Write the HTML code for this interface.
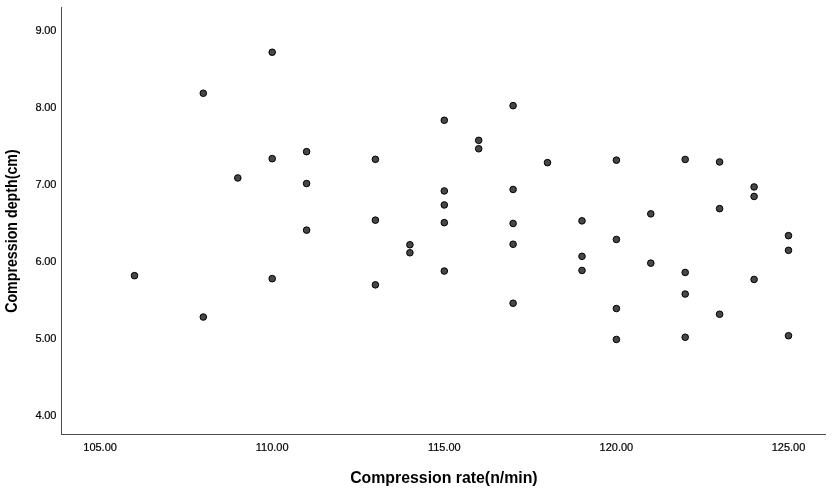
<!DOCTYPE html>
<html><head><meta charset="utf-8"><style>
html,body{margin:0;padding:0;background:#fff;}
body{width:837px;height:489px;overflow:hidden;}
svg{display:block;will-change:transform;}
.g{opacity:0.999;}
.t{font-family:"Liberation Sans",Arial,sans-serif;font-size:11px;fill:#000;stroke:#000;stroke-width:0.2px;}
.ti{font-family:"Liberation Sans",Arial,sans-serif;font-size:16px;font-weight:bold;fill:#000;}
</style></head><body>
<svg width="837" height="489" viewBox="0 0 837 489">
<g stroke="#4e4a55" stroke-width="1" fill="none" shape-rendering="crispEdges">
<line x1="61.5" y1="7" x2="61.5" y2="435"/>
<line x1="61" y1="434.5" x2="826" y2="434.5"/>
</g>
<g class="t g">
<text x="56.2" y="34.1" text-anchor="end" letter-spacing="-0.2">9.00</text>
<text x="56.2" y="111.0" text-anchor="end" letter-spacing="-0.2">8.00</text>
<text x="56.2" y="188.0" text-anchor="end" letter-spacing="-0.2">7.00</text>
<text x="56.2" y="264.9" text-anchor="end" letter-spacing="-0.2">6.00</text>
<text x="56.2" y="341.9" text-anchor="end" letter-spacing="-0.2">5.00</text>
<text x="56.2" y="418.8" text-anchor="end" letter-spacing="-0.2">4.00</text>
<text x="100.1" y="451" text-anchor="middle">105.00</text>
<text x="272.2" y="451" text-anchor="middle">110.00</text>
<text x="444.3" y="451" text-anchor="middle">115.00</text>
<text x="616.4" y="451" text-anchor="middle">120.00</text>
<text x="788.5" y="451" text-anchor="middle">125.00</text>
</g>
<g fill="#474747" stroke="#000" stroke-width="1">
<circle cx="134.5" cy="275.65" r="3.3"/>
<circle cx="203.3" cy="93.25" r="3.3"/>
<circle cx="203.3" cy="317.05" r="3.3"/>
<circle cx="237.8" cy="177.95" r="3.3"/>
<circle cx="272.2" cy="52.25" r="3.3"/>
<circle cx="272.2" cy="158.65" r="3.3"/>
<circle cx="272.2" cy="278.65" r="3.3"/>
<circle cx="306.6" cy="151.65" r="3.3"/>
<circle cx="306.6" cy="183.55" r="3.3"/>
<circle cx="306.6" cy="230.15" r="3.3"/>
<circle cx="375.4" cy="159.35" r="3.3"/>
<circle cx="375.4" cy="220.15" r="3.3"/>
<circle cx="375.4" cy="284.85" r="3.3"/>
<circle cx="409.9" cy="244.75" r="3.3"/>
<circle cx="409.9" cy="252.75" r="3.3"/>
<circle cx="444.3" cy="120.25" r="3.3"/>
<circle cx="444.3" cy="190.95" r="3.3"/>
<circle cx="444.3" cy="204.95" r="3.3"/>
<circle cx="444.3" cy="222.65" r="3.3"/>
<circle cx="444.3" cy="271.05" r="3.3"/>
<circle cx="478.7" cy="140.35" r="3.3"/>
<circle cx="478.7" cy="148.75" r="3.3"/>
<circle cx="513.1" cy="105.65" r="3.3"/>
<circle cx="513.1" cy="189.45" r="3.3"/>
<circle cx="513.1" cy="223.45" r="3.3"/>
<circle cx="513.1" cy="244.25" r="3.3"/>
<circle cx="513.1" cy="303.25" r="3.3"/>
<circle cx="547.5" cy="162.65" r="3.3"/>
<circle cx="582.0" cy="220.85" r="3.3"/>
<circle cx="582.0" cy="256.35" r="3.3"/>
<circle cx="582.0" cy="270.45" r="3.3"/>
<circle cx="616.4" cy="160.15" r="3.3"/>
<circle cx="616.4" cy="239.45" r="3.3"/>
<circle cx="616.4" cy="308.55" r="3.3"/>
<circle cx="616.4" cy="339.45" r="3.3"/>
<circle cx="650.8" cy="213.85" r="3.3"/>
<circle cx="650.8" cy="263.15" r="3.3"/>
<circle cx="685.2" cy="159.45" r="3.3"/>
<circle cx="685.2" cy="272.45" r="3.3"/>
<circle cx="685.2" cy="294.05" r="3.3"/>
<circle cx="685.2" cy="337.25" r="3.3"/>
<circle cx="719.6" cy="161.95" r="3.3"/>
<circle cx="719.6" cy="208.65" r="3.3"/>
<circle cx="719.6" cy="314.25" r="3.3"/>
<circle cx="754.1" cy="186.95" r="3.3"/>
<circle cx="754.1" cy="196.45" r="3.3"/>
<circle cx="754.1" cy="279.45" r="3.3"/>
<circle cx="788.5" cy="235.65" r="3.3"/>
<circle cx="788.5" cy="250.35" r="3.3"/>
<circle cx="788.5" cy="335.75" r="3.3"/>
</g>
<text class="ti g" x="443.9" y="483.2" text-anchor="middle" style="font-size:15.85px">Compression rate(n/min)</text>
<text class="ti g" transform="translate(17,231.1) rotate(-90) scale(0.89,1)" text-anchor="middle">Compression depth(cm)</text>
</svg>
</body></html>
